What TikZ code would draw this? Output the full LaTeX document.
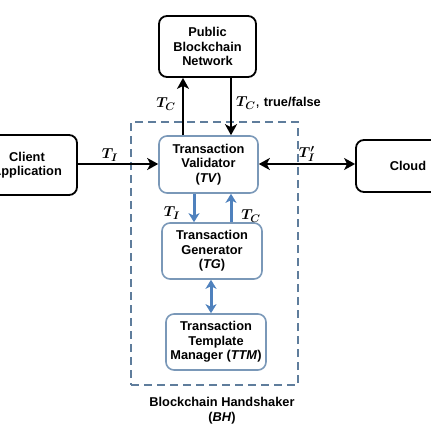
\documentclass[tikz,border=0pt]{standalone}
\usepackage{fontspec}
\usepackage{bm}
\setmainfont{Liberation Sans}
\usetikzlibrary{arrows.meta}
\definecolor{bluearr}{HTML}{4F81BD}
\definecolor{boxblue}{HTML}{7A98B8}
\definecolor{dashblue}{HTML}{5F7D9C}
\tikzset{
  blackbox/.style={draw=black, line width=1.8pt, rounded corners=8pt, align=center, font=\bfseries\fontsize{12.8}{14.5}\selectfont, inner sep=0pt},
  bluebox/.style={draw=boxblue, line width=1.6pt, rounded corners=8pt, align=center, font=\bfseries\fontsize{12.8}{14.5}\selectfont, inner sep=0pt},
  blackarr/.style={line width=2.8pt, -{Stealth[length=11pt,width=12pt,inset=3pt]}},
  bluearrow/.style={draw=bluearr, line width=3pt, -{Stealth[length=9pt,width=11pt,inset=2.5pt]}},
  mlab/.style={font=\fontsize{15}{16}\selectfont, inner sep=0pt}
}
\begin{document}
\begin{tikzpicture}[x=1pt,y=-1pt]
\useasboundingbox (0,0) rectangle (431,431);
\node[blackbox, minimum width=97pt, minimum height=61pt] (pbn) at (207.5,46.5) {Public\\Blockchain\\Network};
\node[blackbox, minimum width=100pt, minimum height=60pt] (client) at (27,165) {Client\\Application};
\node[blackbox, minimum width=104pt, minimum height=52pt] (cloud) at (408,166) {Cloud};
\node[bluebox, minimum width=99pt, minimum height=57pt] (tv) at (208.5,164.5) {Transaction\\Validator\\(\textit{TV})};
\node[bluebox, minimum width=100pt, minimum height=56pt] (tg) at (212,251) {Transaction\\Generator\\(\textit{TG})};
\node[bluebox, minimum width=100pt, minimum height=56pt] (ttm) at (216,342) {Transaction\\Template\\Manager (\textit{TTM})};
\node[draw=dashblue, line width=1.8pt, dash pattern=on 8pt off 5pt, minimum width=167pt, minimum height=263pt, inner sep=0pt] (bh) at (214.5,253.5) {};
\node[align=center, font=\bfseries\fontsize{12.8}{15}\selectfont] (bhlabel) at (222,411) {Blockchain Handshaker\\(\textit{BH})};
\coordinate (xa) at (183,0);
\coordinate (xb) at (231,0);
\coordinate (xc) at (194,0);
\coordinate (xd) at (231,0);
\coordinate (xe) at (211,0);
\draw[blackarr] (tv.north -| xa) -- (pbn.south -| xa);
\draw[blackarr] (pbn.south -| xb) -- (tv.north -| xb);
\draw[blackarr] (client.east |- 0,164) -- (tv.west |- 0,164);
\draw[line width=2.8pt, {Stealth[length=11pt,width=12pt,inset=3pt]}-{Stealth[length=11pt,width=12pt,inset=3pt]}] (tv.east |- 0,164) -- (cloud.west |- 0,164);
\draw[bluearrow] (tv.south -| xc) -- (tg.north -| xc);
\draw[bluearrow] (tg.north -| xd) -- (tv.south -| xd);
\draw[draw=bluearr, line width=3pt, {Stealth[length=9pt,width=11pt,inset=2.5pt]}-{Stealth[length=9pt,width=11pt,inset=2.5pt]}] (tg.south -| xe) -- (ttm.north -| xe);
\node[mlab] (l1) at (166,104) {$\bm{T_C}$};
\node[mlab, anchor=west] (l2) at (236,103) {$\bm{T_C}$, {\bfseries\fontsize{12.8}{14}\selectfont true/false}};
\node[mlab] (l3) at (110,155) {$\bm{T_I}$};
\node[mlab] (l4) at (307,154) {$\bm{T_I'}$};
\node[mlab] (l5) at (172,213) {$\bm{T_I}$};
\node[mlab] (l6) at (251,216) {$\bm{T_C}$};
\end{tikzpicture}
\end{document}
